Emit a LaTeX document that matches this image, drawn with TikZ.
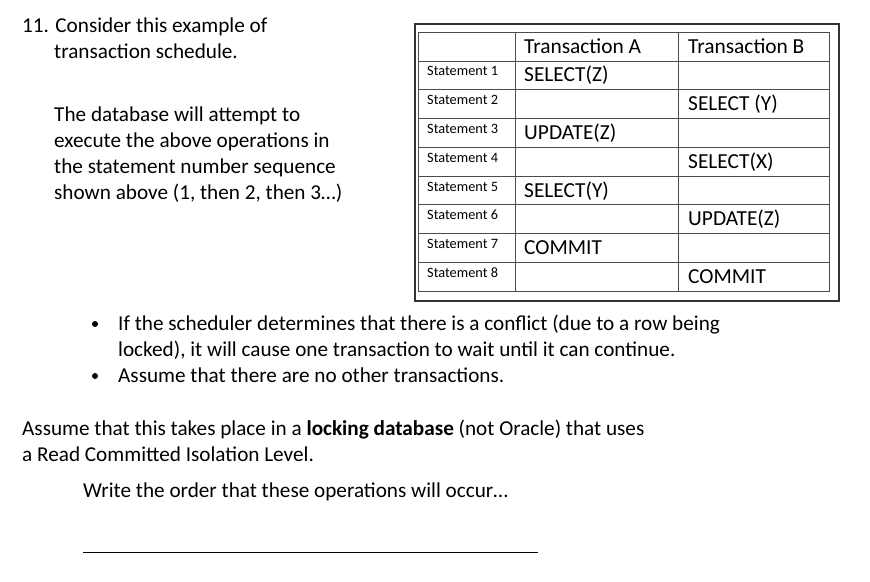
\documentclass[tikz,border=0pt]{standalone}
\usepackage{fontspec}
\setmainfont{Carlito}
\begin{document}
\begin{tikzpicture}[x=1pt,y=-1pt,
  txt/.style={anchor=base west,inner sep=0pt,font=\fontsize{21.2}{24}\selectfont},
  cell/.style={anchor=base west,inner sep=0pt,font=\fontsize{21.4}{24}\selectfont},
  lab/.style={anchor=base west,inner sep=0pt,font=\fontsize{14.3}{16}\selectfont},
  grid/.style={draw=black!70,line width=1pt}]
\useasboundingbox[fill=white] (0,0) rectangle (870,581);
\draw[black!80,line width=1.2pt] (415,24) rectangle (839,301);
\draw[grid] (418,32) rectangle (829,291);
\foreach \y in {61,89,118,147,176,204,233,262} \draw[grid] (418,\y) -- (829,\y);
\draw[grid] (515,32) -- (515,291);
\draw[grid] (678,32) -- (678,291);
\node[cell] (ha) at (524,53) {Transaction A};
\node[cell] (hb) at (688,53) {Transaction B};
\foreach \i/\y in {1/75,2/104,3/133,4/162,5/191,6/219,7/248,8/277}
  \node[lab] (s\i) at (427,\y) {Statement \i};
\node[cell] (a1) at (524,81) {SELECT(Z)};
\node[cell] (b2) at (688,110) {SELECT (Y)};
\node[cell] (a3) at (524,139) {UPDATE(Z)};
\node[cell] (b4) at (688,168) {SELECT(X)};
\node[cell] (a5) at (524,197) {SELECT(Y)};
\node[cell] (b6) at (688,225) {UPDATE(Z)};
\node[cell] (a7) at (524,254) {COMMIT};
\node[cell] (b8) at (688,283) {COMMIT};
\node[txt] (t1) at (22,32) {11. Consider this example of};
\node[txt] (t2) at (54,58) {transaction schedule.};
\node[txt] (p1) at (54,121) {The database will attempt to};
\node[txt] (p2) at (54,147) {execute the above operations in};
\node[txt] (p3) at (54,173) {the statement number sequence};
\node[txt] (p4) at (54,199) {shown above (1, then 2, then 3…)};
\fill (95,324) circle (3);
\fill (95,376) circle (3);
\node[txt] (b1) at (118,330) {If the scheduler determines that there is a conflict (due to a row being};
\node[txt] (b1b) at (118,356) {locked), it will cause one transaction to wait until it can continue.};
\node[txt] (b2t) at (118,382) {Assume that there are no other transactions.};
\node[txt] (q1) at (22,435) {Assume that this takes place in a \textbf{locking database} (not Oracle) that uses};
\node[txt] (q2) at (22,461) {a Read Committed Isolation Level.};
\node[txt] (w) at (83,497) {Write the order that these operations will occur…};
\draw[line width=0.8pt] (83,552) -- (538,552);
\end{tikzpicture}
\end{document}
